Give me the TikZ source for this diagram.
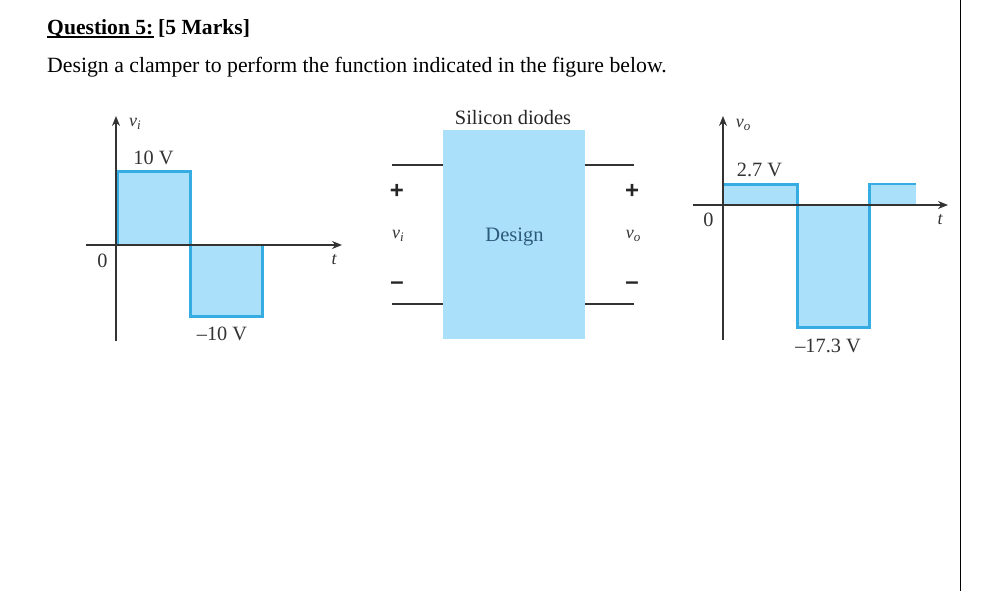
\documentclass[tikz,border=0pt]{standalone}
\usepackage{fontspec}
\setmainfont{Liberation Serif}
\newfontfamily\signfont{Liberation Sans}
\usetikzlibrary{arrows.meta}
\definecolor{fillblue}{HTML}{ABE0FA}
\definecolor{edgeblue}{HTML}{35ADE2}
\definecolor{axisgray}{HTML}{333333}
\definecolor{designink}{HTML}{2C5A7A}
\newcommand{\subsym}[2]{#1\raisebox{-3pt}{\fontsize{13}{14}\selectfont #2}}
\tikzset{
  x=1pt,y=-1pt,
  axisline/.style={draw=axisgray,line width=1.6pt,-{Stealth[length=10pt,width=8pt]}},
  wave/.style={draw=edgeblue,line width=3pt,line join=miter},
  wavethin/.style={draw=edgeblue,line width=1.8pt},
  lead/.style={draw=axisgray,line width=1.6pt},
  label/.style={inner sep=0pt,text=black!80,font=\fontsize{20.3}{22}\selectfont},
  sym/.style={inner sep=0pt,text=black!80,font=\fontsize{18}{20}\selectfont\itshape},
  sign/.style={inner sep=0pt,text=black!85,font=\fontsize{24}{24}\selectfont\signfont\bfseries},
  heading/.style={anchor=base west,inner sep=0pt,font=\fontsize{21.75}{24}\selectfont},
  headingbold/.style={anchor=base west,inner sep=0pt,font=\fontsize{21.6}{24}\selectfont\bfseries}
}
\begin{document}
\begin{tikzpicture}
\useasboundingbox (0,0) rectangle (985,591);
\fill[white] (0,0) rectangle (985,591);
% page edge
\coordinate (edgeT) at (960.5,0);
\coordinate (edgeB) at (960.5,591);
\draw[black,line width=1.3pt] (edgeT) -- (edgeB);
% heading text
\node[headingbold] (qu) at (47,34.5) {Question 5:};
\node[headingbold] (qm) at (158,34.5) {[5 Marks]};
\draw[black,line width=1.8pt] ([yshift=-2.6pt]qu.base west) -- ([yshift=-2.6pt]qu.base east);
\node[heading] (d) at (47,72.5) {Design a clamper to perform the function indicated in the figure below.};
% input waveform
\fill[fillblue] (118,171) rectangle (190,245);
\fill[fillblue] (190,245) rectangle (262,316);
\draw[wave] (117.5,245) |- (190,171.5) -- (190,316) -- (262,316) -- (262,245);
\coordinate (a1T) at (116,116);
\coordinate (a1B) at (116,341);
\coordinate (a1L) at (86,245);
\coordinate (a1R) at (342,245);
\draw[axisline] (a1B) -- (a1T);
\draw[axisline] (a1L) -- (a1R);
\node[sym] (vi1) at (135,124) {\subsym{v}{i}};
\node[label] (l10) at (153.5,158) {10 V};
\node[label] (l0a) at (102.5,261) {0};
\node[sym] (ta) at (334,260) {t};
\node[label] (lm10) at (222,334) {--10 V};
% design block
\node[draw=none,fill=fillblue,minimum width=142pt,minimum height=209pt,inner sep=0pt,anchor=north west] (box) at (443,130) {};
\node[inner sep=0pt,text=designink,font=\fontsize{20.5}{22}\selectfont] (des) at (514.5,237) {Design};
\node[inner sep=0pt,text=black!85,font=\fontsize{20.4}{22}\selectfont] (sd) at (513,118) {Silicon diodes};
\coordinate (ilT) at (392,165);
\coordinate (ilB) at (392,304);
\coordinate (irT) at (634,165);
\coordinate (irB) at (634,304);
\draw[lead] (ilT) -- (ilT -| box.west);
\draw[lead] (ilB) -- (ilB -| box.west);
\draw[lead] (irT) -- (irT -| box.east);
\draw[lead] (irB) -- (irB -| box.east);
\node[sign] (pl) at (397,191) {+};
\node[sign] (pr) at (632,191) {+};
\node[sym] (vi2) at (398,236) {\subsym{v}{i}};
\node[sym] (vo2) at (633,236) {\subsym{v}{o}};
\node[sign] (ml) at (397,286) {–};
\node[sign] (mr) at (632,286) {–};
% output waveform
\fill[fillblue] (723,184) rectangle (797,205);
\fill[fillblue] (797,205) rectangle (869,327);
\fill[fillblue] (869,184) rectangle (916,205);
\draw[wave] (724,184) -- (797,184) -- (797,327) -- (869,327) -- (869,184);
\draw[wavethin] (868,184) -- (916,184);
\coordinate (a3T) at (723,116);
\coordinate (a3B) at (723,340);
\coordinate (a3L) at (693,205);
\coordinate (a3R) at (948,205);
\draw[axisline] (a3B) -- (a3T);
\draw[axisline] (a3L) -- (a3R);
\node[sym] (vo1) at (743,125) {\subsym{v}{o}};
\node[label] (l27) at (759.5,170) {2.7 V};
\node[label] (l0b) at (708.5,220) {0};
\node[sym] (tb) at (940,220) {t};
\node[label] (lm17) at (828,346) {--17.3 V};
\end{tikzpicture}
\end{document}
